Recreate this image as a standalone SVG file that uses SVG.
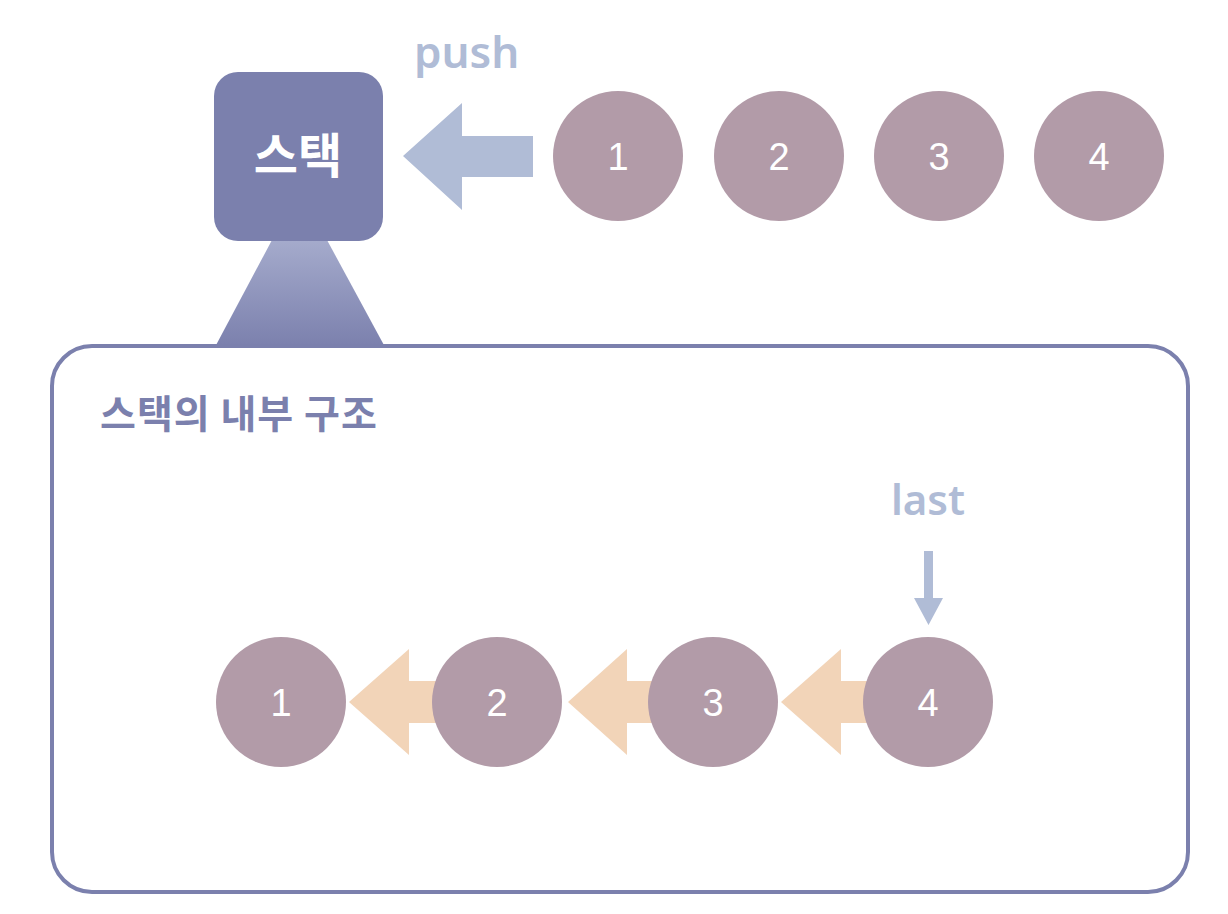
<svg xmlns="http://www.w3.org/2000/svg" width="1228" height="914" viewBox="0 0 1228 914">
<defs>
<linearGradient id="trap" x1="0" y1="0" x2="0" y2="1">
<stop offset="0" stop-color="#a5abcc"/>
<stop offset="1" stop-color="#7b80ad"/>
</linearGradient>
</defs>
<style>
.circ{fill:#b29ba8}
.num{fill:#ffffff;font-family:"Liberation Sans",Arial,sans-serif;font-size:38px;text-anchor:middle}
.ko{font-family:"Noto Sans CJK KR",sans-serif;font-weight:bold}
.lbl{fill:#b0bcd6;font-family:"Noto Sans","Open Sans",sans-serif;font-weight:600}
.blue{fill:#b0bcd6}
.peach{fill:#f2d4b8}
</style>
<rect width="1228" height="914" fill="#ffffff"/>
<g id="container">
<polygon points="272,240 327,240 385,347 215,347" fill="url(#trap)"/>
<rect x="52" y="346" width="1136" height="546" rx="40" fill="none" stroke="#7b80ad" stroke-width="4"/>
<text x="100" y="428" class="ko" font-size="39" letter-spacing="1" fill="#7b80ad">스택의 내부 구조</text>
</g>
<g id="stack">
<rect x="214" y="72" width="169" height="169" rx="24" fill="#7b80ad"/>
<text x="298" y="173" class="ko" font-size="48" fill="#ffffff" text-anchor="middle">스택</text>
</g>
<g id="connectors">
<text x="414" y="68" class="lbl" font-size="44">push</text>
<polygon class="blue" points="403,156 462,103 462,136 533,136 533,177 462,177 462,210"/>
<polygon class="peach" points="349,702 409,649 409,681 450,681 450,723 409,723 409,755"/>
<polygon class="peach" points="568,702 627,649 627,681 665,681 665,723 627,723 627,755"/>
<polygon class="peach" points="781,702 841,649 841,681 880,681 880,723 841,723 841,755"/>
<text x="928" y="515" class="lbl" font-size="42" text-anchor="middle">last</text>
<polygon class="blue" points="924,551 933,551 933,598 943,598 928.5,625 914,598 924,598"/>
</g>
<g id="top1"><circle class="circ" cx="618" cy="156" r="65"/><text class="num" x="618" y="170">1</text></g>
<g id="top2"><circle class="circ" cx="779" cy="156" r="65"/><text class="num" x="779" y="170">2</text></g>
<g id="top3"><circle class="circ" cx="939" cy="156" r="65"/><text class="num" x="939" y="170">3</text></g>
<g id="top4"><circle class="circ" cx="1099" cy="156" r="65"/><text class="num" x="1099" y="170">4</text></g>
<g id="in1"><circle class="circ" cx="281" cy="702" r="65"/><text class="num" x="281" y="716">1</text></g>
<g id="in2"><circle class="circ" cx="497" cy="702" r="65"/><text class="num" x="497" y="716">2</text></g>
<g id="in3"><circle class="circ" cx="713" cy="702" r="65"/><text class="num" x="713" y="716">3</text></g>
<g id="in4"><circle class="circ" cx="928" cy="702" r="65"/><text class="num" x="928" y="716">4</text></g>
</svg>
